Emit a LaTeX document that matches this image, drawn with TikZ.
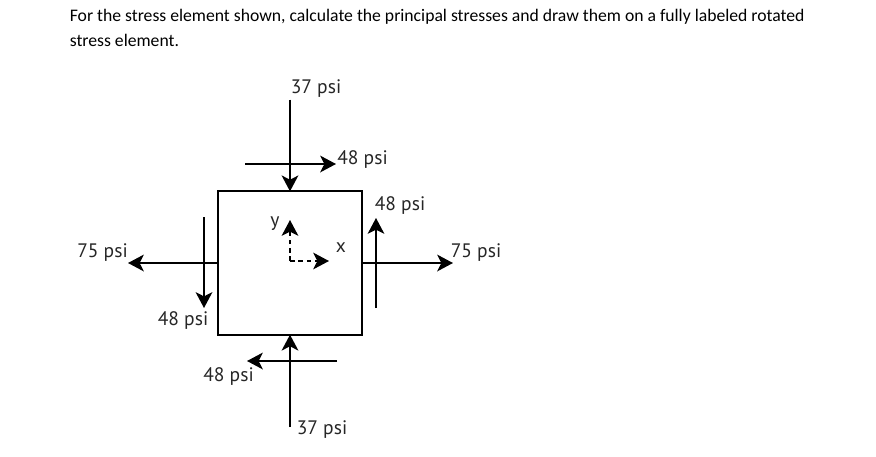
\documentclass[tikz,border=0pt]{standalone}
\usepackage{fontspec}
\setmainfont{Carlito}
\newfontfamily\labelfont{PT Sans}
\usetikzlibrary{arrows.meta}
\tikzset{
  force/.style={draw=black,line width=1.15pt,-{Stealth[length=9pt,width=9.5pt,inset=2.4pt]}},
  axisline/.style={force,dashed,line width=1pt,dash pattern=on 2.6pt off 2.2pt},
  psilabel/.style={inner sep=0pt,font=\labelfont\fontsize{11.1}{12}\selectfont,text=black!85},
  titleline/.style={inner sep=0pt,anchor=west,font=\fontsize{10.05}{12}\selectfont}
}
\begin{document}
\begin{tikzpicture}[scale=0.2]
        \useasboundingbox (0,0) rectangle (87.6,-45.6);
        \node [titleline] (titleA) at (6.95,-1.7) {For the stress element shown, calculate the principal stresses and draw them on a fully labeled rotated};
        \node [titleline] (titleB) at (6.95,-4.05) {stress element.};
        % element
        \node [draw=black,line width=1.15pt,minimum width=81.6pt,minimum height=81.6pt,outer sep=0pt,inner sep=0pt] (elem) at (29,-26.3) {};
        % free ends
        \coordinate (topTail) at (29,-9.95);
        \coordinate (topShearA) at (24.5,-16.4);
        \coordinate (topShearB) at (33.6,-16.4);
        \coordinate (leftTip) at (12.8,-26.3);
        \coordinate (leftShearA) at (20.4,-21.7);
        \coordinate (leftShearB) at (20.4,-30.8);
        \coordinate (rightTip) at (45.3,-26.3);
        \coordinate (rightShearA) at (37.6,-30.8);
        \coordinate (rightShearB) at (37.6,-21.8);
        \coordinate (botTail) at (29,-42.7);
        \coordinate (botShearA) at (33.7,-36.1);
        \coordinate (botShearB) at (24.7,-36.1);
        \coordinate (origin) at (29,-26.1);
        \coordinate (yTip) at (29,-22);
        \coordinate (xTip) at (32.9,-26.1);
        % normal stresses
        \draw [force] (topTail) -- (elem.north);
        \draw [force] (botTail) -- (elem.south);
        \draw [force] (elem.west) -- (leftTip);
        \draw [force] (elem.east) -- (rightTip);
        % shear stresses
        \draw [force] (topShearA) -- (topShearB);
        \draw [force] (botShearA) -- (botShearB);
        \draw [force] (leftShearA) -- (leftShearB);
        \draw [force] (rightShearA) -- (rightShearB);
        % axes
        \draw [axisline] (origin) -- (yTip);
        \draw [axisline] (origin) -- (xTip);
        % labels
        \node [psilabel] (topLabel) at (31.6,-8.85) {37 psi};
        \node [psilabel] (topShearLabel) at (36.25,-15.95) {48 psi};
        \node [psilabel] (rightShearLabel) at (40,-20.55) {48 psi};
        \node [psilabel] (rightLabel) at (47.6,-25.25) {75 psi};
        \node [psilabel] (leftLabel) at (10.25,-25.25) {75 psi};
        \node [psilabel] (leftShearLabel) at (18.3,-32.05) {48 psi};
        \node [psilabel] (botShearLabel) at (22.85,-37.65) {48 psi};
        \node [psilabel] (botLabel) at (32.2,-42.95) {37 psi};
        \node [psilabel] (yLabel) at (27.5,-22.4) {y};
        \node [psilabel] (xLabel) at (34.1,-24.75) {x};
      \end{tikzpicture}
\end{document}
